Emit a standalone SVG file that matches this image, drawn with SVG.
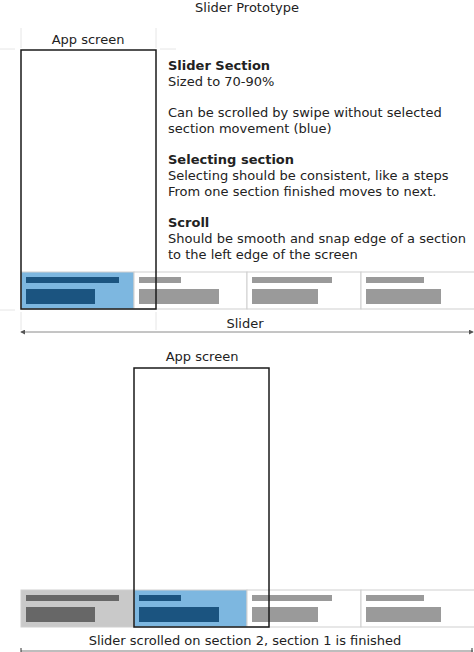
<svg xmlns="http://www.w3.org/2000/svg" width="474" height="652" viewBox="0 0 474 652">
<style>
text{font-family:"DejaVu Sans","Noto Sans",sans-serif;font-size:13px;fill:#222}
.b{font-weight:bold}
.mid{text-anchor:middle}
.screen{fill:none;stroke:#1a1a1a;stroke-width:1.5}
.cell{fill:#fff;stroke:#cfcfcf;stroke-width:1}
.sel{fill:#7db7e0;stroke:#cfcfcf;stroke-width:1}
.done{fill:#c9c9c9;stroke:#cfcfcf;stroke-width:1}
.gb{fill:#9a9a9a}
.db{fill:#1b5480}
.kb{fill:#676767}
.guide{stroke:#e6e6e6;stroke-width:1;fill:none}
.dim{stroke:#8a8a8a;stroke-width:1;fill:none}
</style>
<defs>
<marker id="ah" viewBox="0 0 6 6" refX="5" refY="3" markerWidth="5" markerHeight="5" orient="auto-start-reverse">
<path d="M0,0 L6,3 L0,6 z" fill="#555"/>
</marker>
</defs>
<rect width="474" height="652" fill="#fff"/>
<text id="title" class="mid" x="247" y="12">Slider Prototype</text>

<g id="guides">
<line class="guide" x1="21" y1="28" x2="21" y2="48"/>
<line class="guide" x1="156" y1="28" x2="156" y2="48"/>
<line class="guide" x1="0" y1="49" x2="15" y2="49"/>
<line class="guide" x1="160" y1="49" x2="176" y2="49"/>
<line class="guide" x1="0" y1="310" x2="15" y2="310"/>
<line class="guide" x1="21" y1="312" x2="21" y2="330"/>
<line class="guide" x1="156" y1="312" x2="156" y2="330"/>
</g>

<g id="slider-top">
<rect class="sel" x="21" y="272" width="113" height="37"/>
<rect class="db" x="26" y="277" width="93" height="6"/>
<rect class="db" x="26" y="289" width="69" height="15"/>
<rect class="cell" x="134" y="272" width="113" height="37"/>
<rect class="gb" x="139" y="277" width="42" height="6"/>
<rect class="gb" x="139" y="289" width="80" height="15"/>
<rect class="cell" x="247" y="272" width="114" height="37"/>
<rect class="gb" x="252" y="277" width="80" height="6"/>
<rect class="gb" x="252" y="289" width="66" height="15"/>
<rect class="cell" x="361" y="272" width="114" height="37"/>
<rect class="gb" x="366" y="277" width="58" height="6"/>
<rect class="gb" x="366" y="289" width="75" height="15"/>
</g>

<g id="app-screen-1">
<text class="mid" x="88" y="44">App screen</text>
<rect class="screen" x="21" y="50" width="135" height="259"/>
</g>

<g id="notes">
<text class="b" x="168" y="70">Slider Section</text>
<text x="168" y="86">Sized to 70-90%</text>
<text x="168" y="117">Can be scrolled by swipe without selected</text>
<text x="168" y="133">section movement (blue)</text>
<text class="b" x="168" y="164">Selecting section</text>
<text x="168" y="180">Selecting should be consistent, like a steps</text>
<text x="168" y="196">From one section finished moves to next.</text>
<text class="b" x="168" y="227">Scroll</text>
<text x="168" y="243">Should be smooth and snap edge of a section</text>
<text x="168" y="259">to the left edge of the screen</text>
</g>

<g id="slider-bottom">
<rect class="done" x="21" y="590" width="113" height="37"/>
<rect class="kb" x="26" y="595" width="93" height="6"/>
<rect class="kb" x="26" y="607" width="69" height="15"/>
<rect class="sel" x="134" y="590" width="113" height="37"/>
<rect class="db" x="139" y="595" width="42" height="6"/>
<rect class="db" x="139" y="607" width="80" height="15"/>
<rect class="cell" x="247" y="590" width="114" height="37"/>
<rect class="gb" x="252" y="595" width="80" height="6"/>
<rect class="gb" x="252" y="607" width="66" height="15"/>
<rect class="cell" x="361" y="590" width="114" height="37"/>
<rect class="gb" x="366" y="595" width="58" height="6"/>
<rect class="gb" x="366" y="607" width="75" height="15"/>
</g>

<g id="app-screen-2">
<text class="mid" x="202" y="361">App screen</text>
<rect class="screen" x="134" y="368" width="135" height="259"/>
</g>

<g id="connectors">
<line class="dim" x1="21" y1="332" x2="473" y2="332" marker-start="url(#ah)" marker-end="url(#ah)"/>
<line x1="21" y1="651" x2="473" y2="651" stroke="#bdbdbd" stroke-width="2"/>
<line x1="21" y1="648" x2="21" y2="652" stroke="#333" stroke-width="1"/>
<line x1="472" y1="648" x2="472" y2="652" stroke="#333" stroke-width="1"/>
</g>

<text id="label-slider" class="mid" x="245" y="328">Slider</text>
<text id="label-scrolled" class="mid" x="245" y="645">Slider scrolled on section 2, section 1 is finished</text>
</svg>
